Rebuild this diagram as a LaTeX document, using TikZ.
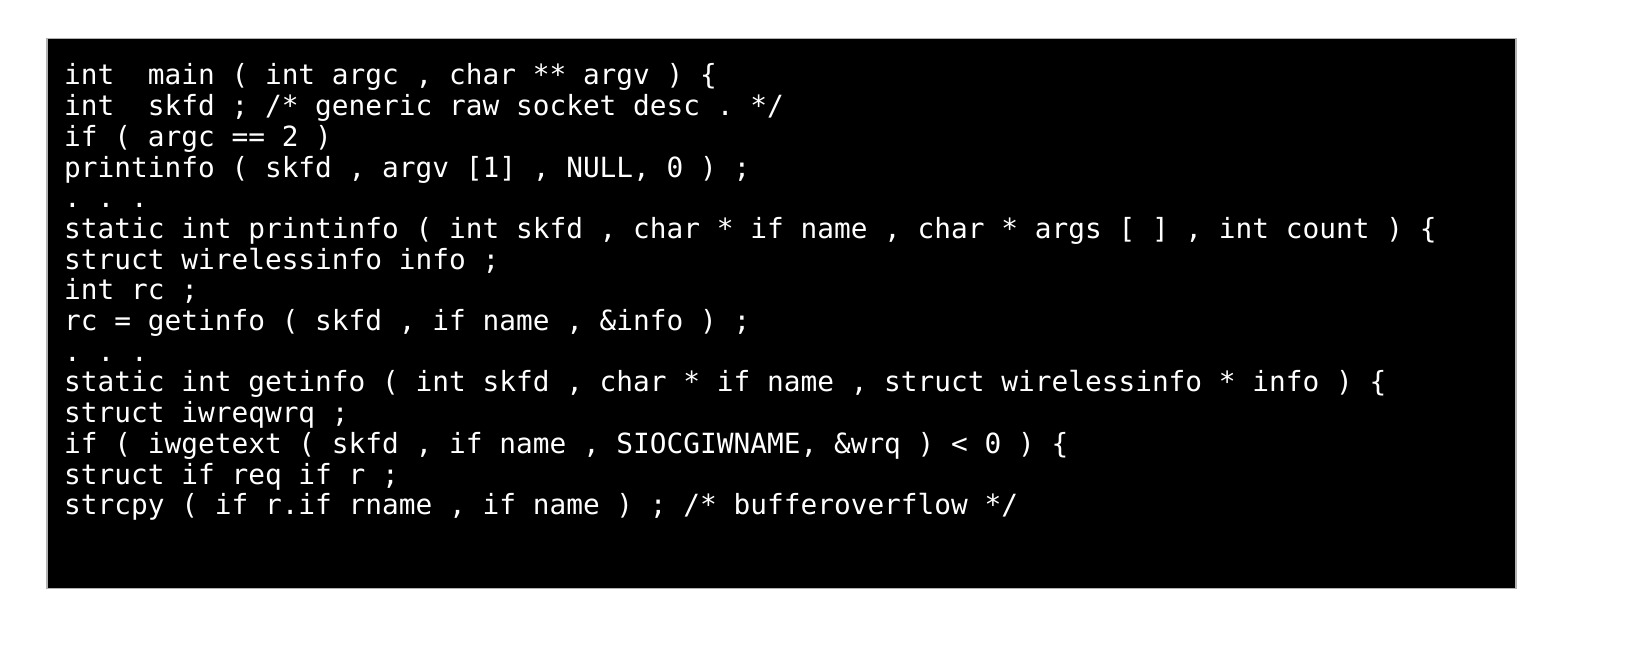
\documentclass[tikz,border=0pt]{standalone}
\usepackage{fontspec}
\setmonofont{DejaVu Sans Mono}
\begin{document}
\begin{tikzpicture}[x=1pt,y=1pt,
  codeline/.style={anchor=base west,inner sep=0pt,text=white,font=\ttfamily\fontsize{27.8}{30}\selectfont}]
\useasboundingbox (0,0) rectangle (1638,652);
\fill[white] (0,0) rectangle (1638,652);
\node[draw=gray!60,line width=1.5pt,fill=black,minimum width=1469pt,minimum height=550pt,anchor=north west,inner sep=0pt] (box) at (46,614) {};
\def\lh{30.7}
\foreach \t [count=\i] in {%
 {int\ \ main ( int argc , char ** argv ) \{},
 {int\ \ skfd ; /* generic raw socket desc . */},
 {if ( argc == 2 )},
 {printinfo ( skfd , argv [1] , NULL, 0 ) ;},
 {. . .},
 {static int printinfo ( int skfd , char * if name , char * args [ ] , int count ) \{},
 {struct wirelessinfo info ;},
 {int rc ;},
 {rc = getinfo ( skfd , if name , \&info ) ;},
 {. . .},
 {static int getinfo ( int skfd , char * if name , struct wirelessinfo * info ) \{},
 {struct iwreqwrq ;},
 {if ( iwgetext ( skfd , if name , SIOCGIWNAME, \&wrq ) < 0 ) \{},
 {struct if req if r ;},
 {strcpy ( if r.if rname , if name ) ; /* bufferoverflow */}}
 {\node[codeline] (l\i) at (64,{652-85-(\i-1)*\lh}) {\t};}
\end{tikzpicture}
\end{document}
